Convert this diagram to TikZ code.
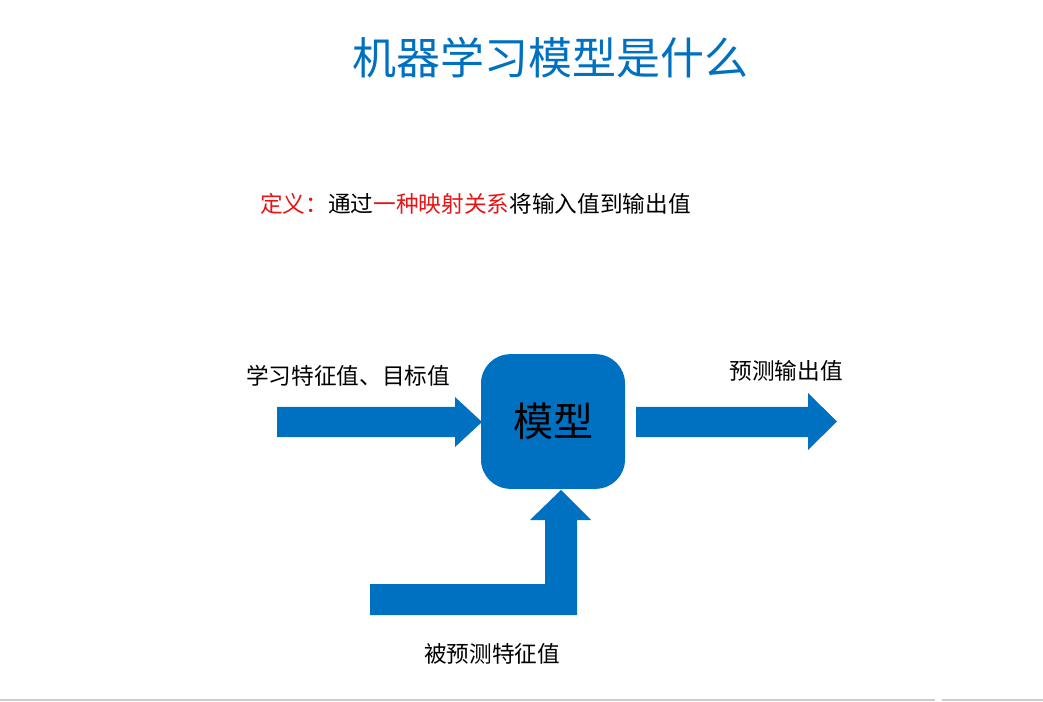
\documentclass[tikz,border=0pt]{standalone}
\usepackage{fontspec}
\newfontfamily\cjk{Noto Sans CJK SC}
\definecolor{mblue}{RGB}{0,112,192}
\definecolor{mred}{RGB}{230,20,20}
\begin{document}
\begin{tikzpicture}[x=0.75pt,y=-0.75pt,
  lbl/.style={font=\cjk\fontsize{17}{20}\selectfont,text=black,inner sep=0pt}]
\useasboundingbox (0,0) rectangle (1043,702);
\fill[white] (0,0) rectangle (1043,702);
\node[font=\cjk\fontsize{33}{38}\selectfont,text=mblue] (title) at (550,58) {机器学习模型是什么};
\node[lbl,anchor=west] (def) at (260,204) {\textcolor{mred}{定义：}通过\textcolor{mred}{一种映射关系}将输入值到输出值};
\node[fill=mblue,rounded corners=22,minimum width=108pt,minimum height=101pt,inner sep=0pt,
  font=\cjk\fontsize{30}{34}\selectfont] (model) at (553,421.5) {模型};
\fill[mblue] (277,407) -- (455,407) -- (455,397) -- (482,422) -- (455,447) -- (455,437) -- (277,437) -- cycle;
\fill[mblue] (636,407) -- (808,407) -- (808,393) -- (837,421.5) -- (808,450) -- (808,437) -- (636,437) -- cycle;
\fill[mblue] (370,584) -- (545,584) -- (545,520) -- (530,520) -- (561,490) -- (591,520) -- (577,520) -- (577,615) -- (370,615) -- cycle;
\node[lbl] (l1) at (348,376) {学习特征值、目标值};
\node[lbl] (l2) at (786,371) {预测输出值};
\node[lbl] (l3) at (492,654) {被预测特征值};
\draw[gray!40,line width=0.8pt] (0,700) -- (935,700) (942,700) -- (1043,700);
\end{tikzpicture}
\end{document}
